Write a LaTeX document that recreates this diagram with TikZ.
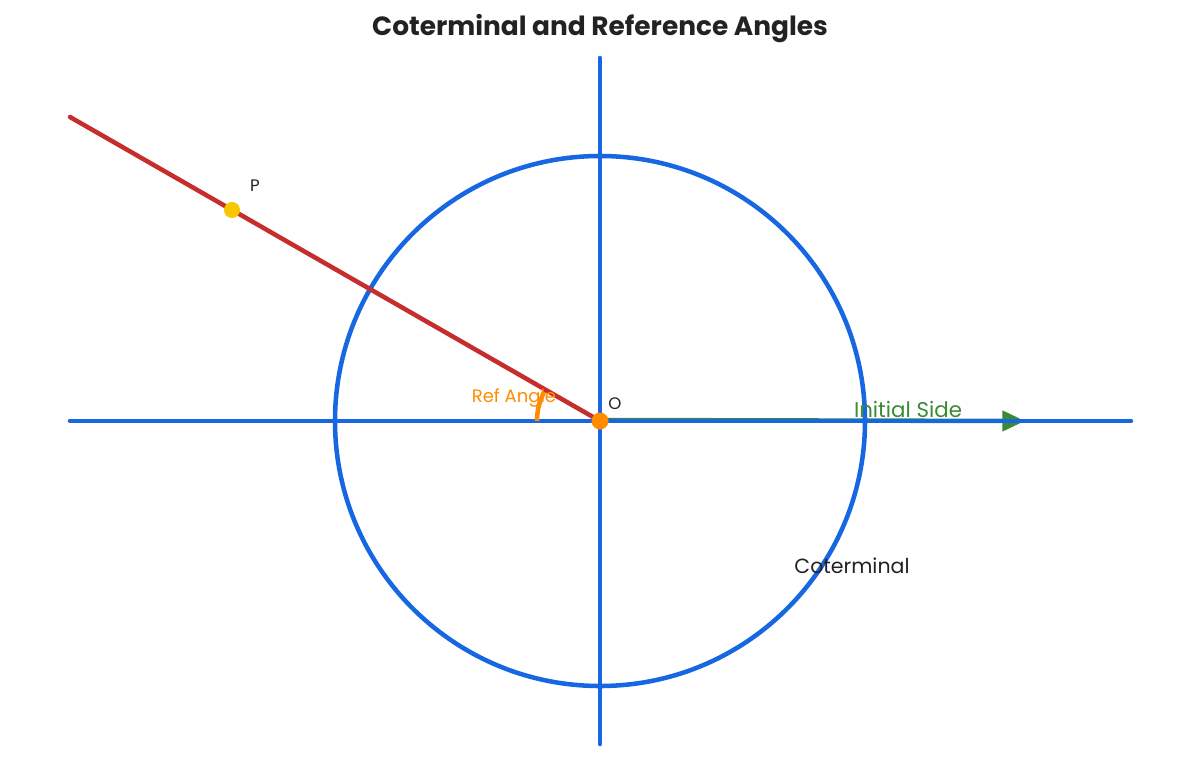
\documentclass[tikz,border=0pt]{standalone}
\usepackage{fontspec}
\setmainfont{Poppins}
\usetikzlibrary{arrows.meta}
\definecolor{axisblue}{HTML}{1767E3}
\definecolor{rayred}{HTML}{C62D2D}
\definecolor{refora}{HTML}{FF8C00}
\definecolor{sidegreen}{HTML}{3C8A34}
\definecolor{pyellow}{HTML}{F7C800}
\definecolor{txtgray}{HTML}{222222}
\begin{document}
\begin{tikzpicture}[x=0.75pt,y=0.75pt,yscale=-1]
\useasboundingbox (0,0) rectangle (1200,763);
% Points
\coordinate (O) at (600,421);
\coordinate (xl) at (70,421);
\coordinate (xr) at (1131,421);
\coordinate (yt) at (600,58);
\coordinate (yb) at (600,744);
\coordinate (rayend) at (70,117);
\coordinate (P) at (232,210);
\coordinate (sideend) at (1025,421);

%Initial side
\draw [color=sidegreen, line width=3.4, -{Triangle[length=17,width=15]}] (600,420) -- (sideend) ;
%Axes
\draw [color=axisblue, line width=3.4, line cap=round] (xl) -- (xr) ;
\draw [color=axisblue, line width=3.4, line cap=round] (yt) -- (yb) ;
%Circle
\draw [color=axisblue, line width=3.4] (O) circle (265) ;
%Reference angle arc
\draw [color=refora, line width=3.4] (537,421) arc (180:210:63) ;
%Terminal ray
\draw [color=rayred, line width=3.4, line cap=round] (O) -- (rayend) ;

\fill [color=pyellow] (P) circle (8) ;
\fill [color=refora] (O) circle (8.5) ;

% Text Node
\node [font=\bfseries\fontsize{19.8}{22}\selectfont, text=txtgray] (title) at (600,29) {Coterminal and Reference Angles};
\node [font=\fontsize{12.5}{14}\selectfont, text=txtgray] (plabel) at (255,186) {P};
\node [font=\fontsize{12.5}{14}\selectfont, text=txtgray] (olabel) at (615,404) {O};
\node [font=\fontsize{13.5}{16}\selectfont, text=refora] (reflabel) at (514,398) {Ref Angle};
\node [font=\fontsize{16}{18}\selectfont, text=sidegreen] (sidelabel) at (908,409) {Initial Side};
\node [font=\fontsize{15.4}{18}\selectfont, text=txtgray] (cotlabel) at (852,566) {Coterminal};

\end{tikzpicture}
\end{document}
